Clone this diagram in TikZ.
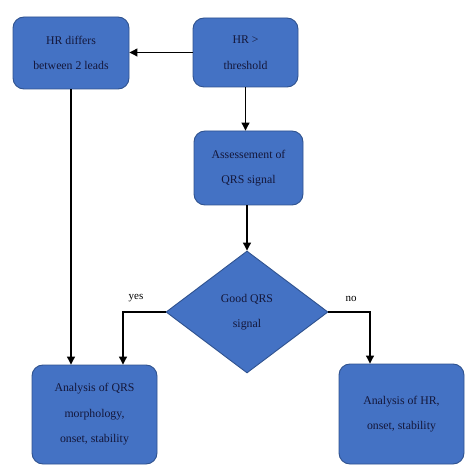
\documentclass[tikz,border=0pt]{standalone}
\usepackage{fontspec}
\setmainfont{Liberation Serif}
\usetikzlibrary{shapes.geometric,arrows.meta}
\definecolor{boxfill}{HTML}{4472C4}
\definecolor{boxline}{HTML}{2F528F}
\definecolor{txt}{HTML}{14173A}
\tikzset{
  box/.style={draw=boxline, line width=0.9pt, fill=boxfill, rounded corners=11pt,
    align=center, text=txt, inner sep=0pt, font=\fontsize{11.8}{25.5}\selectfont},
  dec/.style={draw=boxline, line width=0.9pt, fill=boxfill, diamond, aspect=1.33,
    inner sep=0pt, align=center, text=txt, font=\fontsize{11.8}{25.5}\selectfont},
  conn/.style={line width=1.1pt, -{Triangle[length=8pt,width=8pt]}},
  lbl/.style={font=\fontsize{11}{12}\selectfont, text=black}
}
\begin{document}
\begin{tikzpicture}[x=1pt,y=-1pt]
\useasboundingbox (0,0) rectangle (474,473);
\node[box, minimum width=116pt, minimum height=72pt] (b1) at (71,53) {HR differs\\between 2 leads};
\node[box, minimum width=105pt, minimum height=69pt] (b2) at (245.5,52.5) {HR >\\threshold};
\node[box, minimum width=109pt, minimum height=74pt] (b3) at (248.5,168) {Assessement of\\QRS signal};
\node[dec, minimum width=162pt, minimum height=122pt] (d) at (247,312) {Good QRS\\signal};
\node[box, minimum width=125pt, minimum height=99pt] (b4) at (94.5,414.5) {Analysis of QRS\\morphology,\\onset, stability};
\node[box, minimum width=125pt, minimum height=100pt] (b5) at (401.5,414) {Analysis of HR,\\onset, stability};
\coordinate (c4) at ([xshift=28.5pt]b4.north);
\coordinate (c5) at ([xshift=-31.5pt]b5.north);
\draw[conn] (b2.west) -- (b1.east |- b2.west);
\draw[conn] (b2.south) -- (b2.south |- b3.north);
\draw[conn] (d.north |- b3.south) -- (d.north);
\draw[conn] (b1.south) -- (b1.south |- b4.north);
\draw[conn] (d.west) -| (c4);
\draw[conn] (d.east) -| (c5);
\node[lbl] (yes) at (136,298) {yes};
\node[lbl] (no) at (351,299) {no};
\end{tikzpicture}
\end{document}
